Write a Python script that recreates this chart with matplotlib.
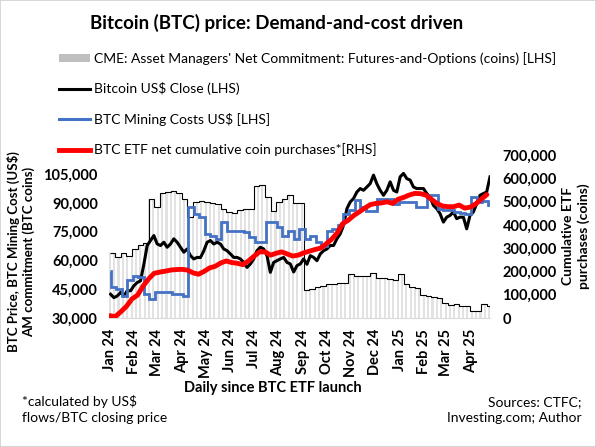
import matplotlib
matplotlib.use('Agg')
import matplotlib.pyplot as plt
import matplotlib.dates as mdates
import numpy as np
import pandas as pd
from matplotlib.lines import Line2D
from matplotlib.patches import Patch, Rectangle
from matplotlib.ticker import FuncFormatter

plt.rcParams['font.family'] = ['Lato', 'DejaVu Sans']

# ---- data ----
# CME asset managers' net commitment, weekly, coins (LHS)
am_start = '2024-01-11'
am_coins = [64000, 62000, 64000, 62500, 66000, 68000, 69000, 92000, 88000, 95000,
            95500, 96000, 95000, 92000, 82500, 90500, 91000, 90500, 90000, 89500,
            87000, 85500, 85000, 86500, 87000, 87000, 99000, 99500, 93000, 86000,
            90500, 92000, 94000, 90000, 90000, 44700, 45000, 46000, 46500, 47500,
            47800, 48000, 48000, 53000, 52000, 52000, 52000, 53500, 51000, 51000,
            50500, 50000, 53000, 47600, 46000, 45500, 42000, 41500, 41000, 40500,
            38000, 37000, 37500, 36000, 36500, 33700, 33700, 37500, 36500]

# BTC mining cost, US$ (LHS): launch-day value then weekly steps
mining_launch = 54700
mining_cost = [46000, 45000, 41500, 50000, 52000, 51200, 42400, 39800, 43300, 43300,
               43300, 42400, 42400, 41500, 88000, 84000, 82600, 74000, 72500, 71300,
               80000, 75600, 75600, 75600, 74700, 72000, 69500, 69500, 80000, 80000,
               77400, 73000, 75600, 71300, 76500, 71300, 73000, 69500, 67800, 75600,
               76500, 78300, 84400, 86100, 91400, 88000, 86000, 86000, 92300, 92300,
               92300, 89600, 90500, 90500, 90500, 87800, 87800, 94000, 94000, 87000,
               86100, 86100, 85300, 85000, 84400, 93000, 90500, 91000, 89000]

# BTC US$ close (LHS), sampled about every 4 days
btc_close = [42400, 40600, 41500, 43300, 41500, 44200, 44200, 46800, 48500, 49400,
             58000, 67800, 70400, 73000, 68600, 67800, 69500, 66900, 68600, 71300,
             69500, 66900, 64300, 66000, 62500, 60800, 61600, 61500, 65000, 69500,
             70400, 68600, 69500, 68600, 66000, 65100, 63400, 61600, 61600, 60800,
             59000, 56400, 58200, 60800, 65100, 66900, 66000, 62500, 53800, 59000,
             59900, 60800, 61600, 59000, 58200, 54000, 57300, 58200, 60800, 58000,
             62500, 61600, 59900, 63400, 65100, 66000, 67800, 67800, 71300, 73900,
             78300, 87000, 90500, 92300, 95700, 97500, 96600, 98300, 100100, 104500,
             100000, 96600, 94000, 96600, 101000, 96600, 95700, 103600, 105400, 102700,
             101900, 98300, 97500, 97500, 97500, 94900, 93000, 88700, 87000, 84400,
             80000, 82600, 83500, 85300, 81800, 82600, 82600, 76500, 83500, 85300,
             89600, 94000, 94900, 95700, 103600]

# BTC ETF net cumulative coin purchases, weekly (RHS)
etf_coins = [10000, 6000, 27000, 50000, 82000, 98000, 137000, 168000, 192000, 197000,
             201000, 206000, 208000, 209000, 206000, 194000, 188000, 200000, 215000, 222000,
             236000, 245000, 238000, 235000, 229000, 245000, 265000, 284000, 284000, 270000,
             278000, 284000, 275000, 266000, 270000, 280000, 287000, 294000, 300000, 318000,
             338000, 365000, 405000, 420000, 440000, 456000, 472000, 487000, 492000, 494000,
             499000, 492000, 510000, 518000, 528000, 535000, 534000, 528000, 510000, 492000,
             481000, 478000, 478000, 485000, 472000, 476000, 490000, 510000, 530000]

month_ticks = pd.date_range('2024-01-01', '2025-04-01', freq='MS') + pd.Timedelta(days=10)

# ---- figure ----
fig = plt.figure(figsize=(5.96, 4.47), dpi=100)
ax = fig.add_axes([109/596, 1 - 318/447, 381/596, 163/447])
ax2 = ax.twinx()

week_edges = pd.date_range(am_start, periods=len(am_coins) + 1, freq='7D')
am = pd.Series(am_coins, index=week_edges[:-1])

# thin grey columns under the AM outline
bar_dates = pd.date_range(am_start, '2025-05-04', periods=88)
am_bars = am.reindex(am.index.union(bar_dates)).ffill().loc[bar_dates]
ax.bar(bar_dates, am_bars.values, width=2.6, color='#e2e2e2', linewidth=0, zorder=1)
ax.stairs(am_coins, mdates.date2num(week_edges), baseline=None,
          color='black', lw=0.8, zorder=2)

btc_dates = pd.date_range('2024-01-12', '2025-05-05', periods=len(btc_close))
ax.plot(btc_dates, btc_close, color='black', lw=2.2, zorder=3)

mine_edges = [pd.Timestamp(am_start)] + list(pd.date_range('2024-01-12', periods=len(mining_cost) + 1, freq='7D'))
ax.stairs([mining_launch] + mining_cost, mdates.date2num(mine_edges), baseline=None,
          color='#4472c4', lw=2.0, zorder=4)

etf_dates = week_edges[:-1]
ax2.plot(etf_dates, etf_coins, color='#ff0000', lw=3.5, solid_capstyle='round')

ax.set_xlim(pd.Timestamp('2024-01-10'), pd.Timestamp('2025-05-05'))
ax.set_ylim(30000, 115000)
ax.set_yticks(np.arange(30000, 105001, 15000))
ax2.set_ylim(0, 700000)
ax2.set_yticks(np.arange(0, 700001, 100000))

thousands = FuncFormatter(lambda v, p: f'{v:,.0f}')
ax.yaxis.set_major_formatter(thousands)
ax2.yaxis.set_major_formatter(thousands)
ax.set_xticks(month_ticks)
ax.set_xticklabels([d.strftime('%b %y') for d in month_ticks], rotation=90,
                   fontweight='bold', fontsize=10.5)

ax.tick_params(axis='y', length=0, pad=8, labelsize=10.5)
ax.tick_params(axis='x', length=0, pad=8)
ax2.tick_params(axis='y', length=0, pad=9, labelsize=10.5)
for t in ax.get_yticklabels() + ax2.get_yticklabels():
    t.set_fontweight('bold')

for a in (ax, ax2):
    for s in a.spines.values():
        s.set_visible(False)
ax.spines['bottom'].set_visible(True)
ax.spines['bottom'].set_color('#d9d9d9')

# ---- texts ----
fig.text(277/596, 1 - 23/447, 'Bitcoin (BTC) price: Demand-and-cost driven',
         ha='center', va='center', fontsize=13.5, fontweight='bold')

handles = [Patch(facecolor='#bfbfbf', edgecolor='none'),
           Line2D([], [], color='black', lw=2.2),
           Line2D([], [], color='#4472c4', lw=2.2),
           Line2D([], [], color='#ff0000', lw=3.5)]
labels = ["CME: Asset Managers' Net Commitment: Futures-and-Options (coins) [LHS]",
          'Bitcoin US$ Close (LHS)',
          'BTC Mining Costs US$ [LHS]',
          'BTC ETF net cumulative coin purchases*[RHS]']
fig.legend(handles, labels, loc='upper left', bbox_to_anchor=(59/596, 1 - 52/447),
           frameon=False, fontsize=10, handlelength=2.2, handleheight=0.5,
           handletextpad=0.3, labelspacing=1.25, borderpad=0, borderaxespad=0)

fig.text(21/596, 1 - 252/447, 'BTC Price, BTC Mining Cost (US$)\nAM commitment (BTC coins)',
         rotation=90, ha='center', va='center', multialignment='center',
         fontsize=9.5, fontweight='bold', linespacing=1.25)
fig.text(576/596, 1 - 236/447, 'Cumulative ETF\npurchases (coins)',
         rotation=90, ha='center', va='center', multialignment='center',
         fontsize=10, fontweight='bold', linespacing=1.25)
fig.text(273/596, 1 - 388/447, 'Daily since BTC ETF launch',
         ha='center', va='center', fontsize=10.5, fontweight='bold')
fig.text(22/596, 1 - 410/447, '*calculated by US$\nflows/BTC closing price',
         ha='left', va='center', fontsize=10, linespacing=1.4)
fig.text(582/596, 1 - 410/447, 'Sources: CTFC;\nInvesting.com; Author',
         ha='right', va='center', multialignment='right', fontsize=10, linespacing=1.4)

fig.patches.append(Rectangle((0, 0), 1, 1, transform=fig.transFigure, fill=False,
                             edgecolor='#d0d0d0', lw=1.2))

fig.savefig('out.png', dpi=100)
